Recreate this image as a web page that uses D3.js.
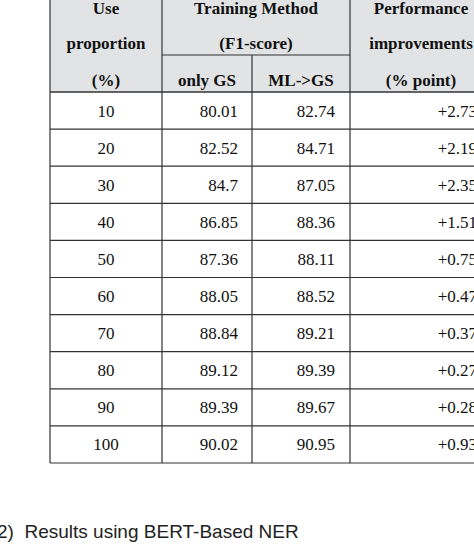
<!DOCTYPE html>
<html><head><meta charset="utf-8">
<script src="https://cdn.jsdelivr.net/npm/d3@7"></script>
<style>body{margin:0;background:#fff;overflow:hidden}</style>
</head><body>
<svg id="t" width="474" height="544"></svg>
<script>
const proportions = [10, 20, 30, 40, 50, 60, 70, 80, 90, 100];
const onlyGS = ["80.01", "82.52", "84.7", "86.85", "87.36", "88.05", "88.84", "89.12", "89.39", "90.02"];
const mlGS = ["82.74", "84.71", "87.05", "88.36", "88.11", "88.52", "89.21", "89.39", "89.67", "90.95"];
const improvements = ["+2.73", "+2.19", "+2.35", "+1.51", "+0.75", "+0.47", "+0.37", "+0.27", "+0.28", "+0.93"];

const svg = d3.select("#t");
const cols = [50, 162, 252, 350, 482];
const headTop = -12, headBottom = 92, subLine = 55;
const y = d3.scaleBand().domain(proportions).range([headBottom, 463]);
const serif = "'Liberation Serif', 'Times New Roman', serif";

// header background
svg.append("rect").attr("x", cols[0]).attr("y", headTop)
  .attr("width", cols[4] - cols[0]).attr("height", headBottom - headTop).attr("fill", "#e1e3e5");

const head = svg.append("g").attr("font-family", serif).attr("font-weight", "bold")
  .attr("font-size", 17).attr("text-anchor", "middle").attr("fill", "#111");
const hl = [
  [106, 14, "Use"], [106, 49, "proportion"], [106, 86, "(%)"],
  [256, 14, "Training Method"], [256, 49, "(F1-score)"],
  [207, 86, "only GS"], [301, 86, "ML->GS"],
  [421, 14, "Performance"], [421, 49, "improvements"], [421, 86, "(% point)"]
];
hl.forEach(d => head.append("text").attr("x", d[0]).attr("y", d[1]).text(d[2]));

// body text
const body = svg.append("g").attr("font-family", serif).attr("font-size", 17).attr("fill", "#111");
const rowY = d => y(d) + y.bandwidth() / 2 + 6;
proportions.forEach((p, i) => {
  body.append("text").attr("x", 106).attr("y", rowY(p)).attr("text-anchor", "middle").text(p);
  body.append("text").attr("x", 238).attr("y", rowY(p)).attr("text-anchor", "end").text(onlyGS[i]);
  body.append("text").attr("x", 335).attr("y", rowY(p)).attr("text-anchor", "end").text(mlGS[i]);
  body.append("text").attr("x", 477).attr("y", rowY(p)).attr("text-anchor", "end").text(improvements[i]);
});

// grid lines
const lines = svg.append("g").attr("stroke", "#333").attr("stroke-width", 1.2);
cols.forEach((x, i) => {
  const y1 = (i === 2) ? subLine : headTop;
  lines.append("line").attr("x1", x).attr("x2", x).attr("y1", y1).attr("y2", 463);
});
lines.append("line").attr("x1", cols[1]).attr("x2", cols[3]).attr("y1", subLine).attr("y2", subLine);
lines.append("line").attr("x1", cols[0]).attr("x2", cols[4]).attr("y1", headBottom).attr("y2", headBottom).attr("stroke-width", 1.6);
proportions.forEach(p => {
  lines.append("line").attr("x1", cols[0]).attr("x2", cols[4])
    .attr("y1", y(p) + y.bandwidth()).attr("y2", y(p) + y.bandwidth());
});

svg.append("text").attr("x", -3).attr("y", 538).attr("font-family", "'Liberation Sans', Arial, sans-serif")
  .attr("font-size", 19).attr("fill", "#222").attr("xml:space", "preserve").text("2)  Results using BERT-Based NER");
</script>
</body></html>
